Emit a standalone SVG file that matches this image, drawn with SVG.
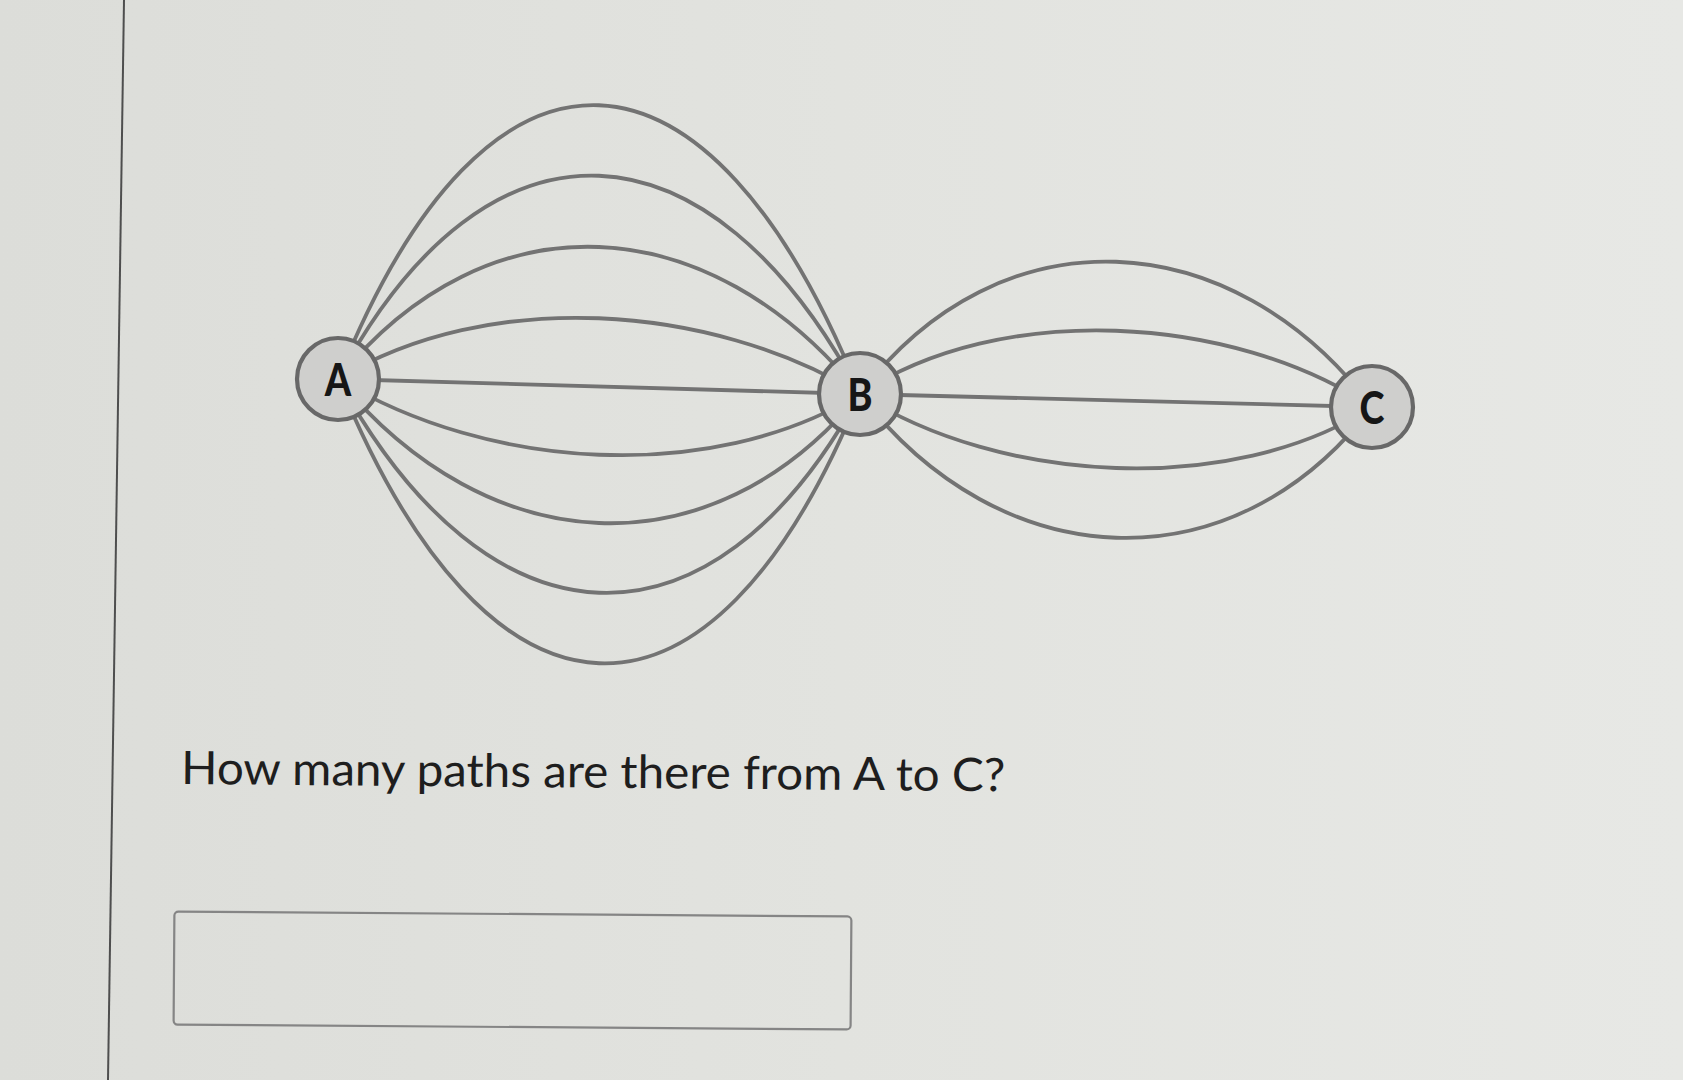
<svg xmlns="http://www.w3.org/2000/svg" width="1683" height="1080" viewBox="0 0 1683 1080">
  <defs>
    <linearGradient id="bg" x1="0" y1="0" x2="1" y2="0">
      <stop offset="0" stop-color="#dcddd9"/>
      <stop offset="0.5" stop-color="#e2e3df"/>
      <stop offset="1" stop-color="#e7e8e5"/>
    </linearGradient>
    <style>
      .edge { fill: none; stroke: #737373; stroke-width: 3.8; stroke-linecap: round; }
      .node circle { fill: #cfcfcd; stroke: #686868; stroke-width: 4.2; }
      .node text { font-family: Lato, "Open Sans", "Liberation Sans", sans-serif; font-weight: 900; font-size: 46px; fill: #161616; text-anchor: middle; }
      .question { font-family: Lato, "Liberation Sans", sans-serif; font-size: 46px; fill: #1e1e1e; }
      .answer { fill: none; stroke: #858585; stroke-width: 2.2; }
    </style>
  </defs>

  <rect x="0" y="0" width="1683" height="1080" fill="url(#bg)"/>
  <line x1="124" y1="0" x2="108" y2="1080" stroke="#4e4e4e" stroke-width="2"/>

  <g id="connectors">
    <!-- A to B -->
    <path class="edge" d="M338,379 C488,4 710,19 860,394"/>
    <path class="edge" d="M338,379 C488,98 710,113 860,394"/>
    <path class="edge" d="M338,379 C488,193 710,208 860,394"/>
    <path class="edge" d="M338,379 C488,288 710,303 860,394"/>
    <path class="edge" d="M338,379 L860,394"/>
    <path class="edge" d="M338,379 C488,470 710,485 860,394"/>
    <path class="edge" d="M338,379 C488,561 710,576 860,394"/>
    <path class="edge" d="M338,379 C488,654 710,669 860,394"/>
    <path class="edge" d="M338,379 C488,748 710,763 860,394"/>
    <!-- B to C -->
    <path class="edge" d="M860,394 C1000,209 1232,222 1372,407"/>
    <path class="edge" d="M860,394 C1000,301 1232,314 1372,407"/>
    <path class="edge" d="M860,394 L1372,407"/>
    <path class="edge" d="M860,394 C1000,484 1232,497 1372,407"/>
    <path class="edge" d="M860,394 C1000,577 1232,590 1372,407"/>
  </g>

  <g id="node-A" class="node">
    <circle cx="338" cy="379" r="41"/>
    <text x="0" y="0" transform="translate(338,396) scale(0.82,1)">A</text>
  </g>
  <g id="node-B" class="node">
    <circle cx="860" cy="394" r="41"/>
    <text x="0" y="0" transform="translate(860,411) scale(0.82,1)">B</text>
  </g>
  <g id="node-C" class="node">
    <circle cx="1372" cy="407" r="41"/>
    <text x="0" y="0" transform="translate(1372,424) scale(0.82,1)">C</text>
  </g>

  <g id="question">
    <text class="question" x="181" y="784" textLength="824" lengthAdjust="spacingAndGlyphs" transform="rotate(0.5,181,784)">How many paths are there from A to C?</text>
  </g>

  <g id="answer-box">
    <rect class="answer" x="174" y="914" width="677" height="113" rx="4" transform="rotate(0.42,512,970)"/>
  </g>
</svg>
